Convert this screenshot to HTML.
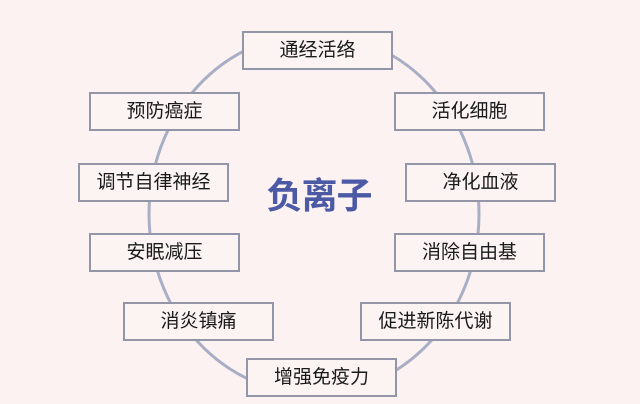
<!DOCTYPE html>
<html><head><meta charset="utf-8"><style>
body{margin:0;width:640px;height:404px;background:#fcf2f2;overflow:hidden;position:relative;font-family:"Liberation Sans","Noto Sans CJK SC",sans-serif}
.b{position:absolute;width:147px;height:35px;border:2px solid #9296a8;background:#fcf3f3;color:#1a1a1a;font-size:19px;line-height:35px;text-align:center;box-sizing:content-box}
.c{position:absolute;left:264px;top:174px;width:110px;text-align:center;font-size:36px;font-weight:bold;color:#4c5aa6;line-height:44px;letter-spacing:-1px}
svg{position:absolute;left:0;top:0}
</style></head><body>
<svg width="640" height="404"><ellipse cx="314" cy="214" rx="165" ry="180" fill="none" stroke="#a8aec4" stroke-width="3"/></svg>
<div class="b" style="left:242px;top:31px">通经活络</div>
<div class="b" style="left:89px;top:92px">预防癌症</div>
<div class="b" style="left:394px;top:92px">活化细胞</div>
<div class="b" style="left:78px;top:163px">调节自律神经</div>
<div class="b" style="left:405px;top:163px">净化血液</div>
<div class="b" style="left:89px;top:233px">安眠减压</div>
<div class="b" style="left:394px;top:233px">消除自由基</div>
<div class="b" style="left:123px;top:302px">消炎镇痛</div>
<div class="b" style="left:360px;top:302px">促进新陈代谢</div>
<div class="b" style="left:246px;top:358px">增强免疫力</div>
<div class="c">负离子</div>
</body></html>
